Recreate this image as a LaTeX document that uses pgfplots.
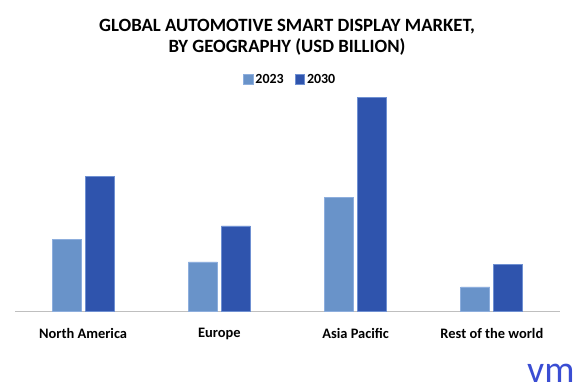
\documentclass[border=0pt]{standalone}
\usepackage{pgfplots}
\pgfplotsset{compat=1.18}
\usepackage{fontspec}
\setmainfont{Carlito}
\definecolor{c23}{HTML}{6993C9}
\definecolor{c23e}{HTML}{8DAEDD}
\definecolor{c30}{HTML}{2F54AD}
\definecolor{c30e}{HTML}{6F90D2}
\definecolor{axg}{HTML}{BFBFBF}
\definecolor{logo}{HTML}{3A4DD3}
\begin{document}
\begin{tikzpicture}
\path (0bp,0bp) rectangle (574bp,392bp);
\node[font=\bfseries\fontsize{18.8}{21.5}\selectfont, align=center] at (287bp,355bp) {GLOBAL AUTOMOTIVE SMART DISPLAY MARKET,\\BY GEOGRAPHY (USD BILLION)};
\begin{axis}[
  at={(15bp,80.5bp)}, anchor=south west,
  scale only axis, width=545bp, height=221.5bp,
  ybar=4bp, bar width=29bp,
  xmin=-0.5, xmax=3.5, ymin=0, ymax=4.43,
  axis x line*=bottom, axis y line=none,
  x axis line style={axg, line width=1.5bp, -},
  xtick=data, xticklabels={North America,Europe,Asia Pacific,Rest of the world},
  xtick style={draw=none},
  xticklabel style={font=\bfseries\fontsize{14.5}{16}\selectfont, yshift=-9bp},
  ytick=\empty,
  legend style={at={(0.505,1.003)}, anchor=south, draw=none, legend columns=2,
    font=\bfseries\fontsize{14}{16}\selectfont, /tikz/every even column/.append style={column sep=9bp}},
  legend image code/.code={\draw[#1] (0bp,-4.5bp) rectangle (9.5bp,5bp);},
  clip=false,
]
\addplot[fill=c23, draw=c23e, line width=0.8bp] coordinates {(0,1.44) (1,0.99) (2,2.28) (3,0.49)};
\addplot[fill=c30, draw=c30e, line width=0.8bp] coordinates {(0,2.70) (1,1.71) (2,4.28) (3,0.94)};
\legend{2023,2030}
\end{axis}
\node[overlay, font=\fontsize{38}{40}\selectfont, text=logo, anchor=base west, inner sep=0pt] at (527bp,10bp) {vm};
\end{tikzpicture}
\end{document}
